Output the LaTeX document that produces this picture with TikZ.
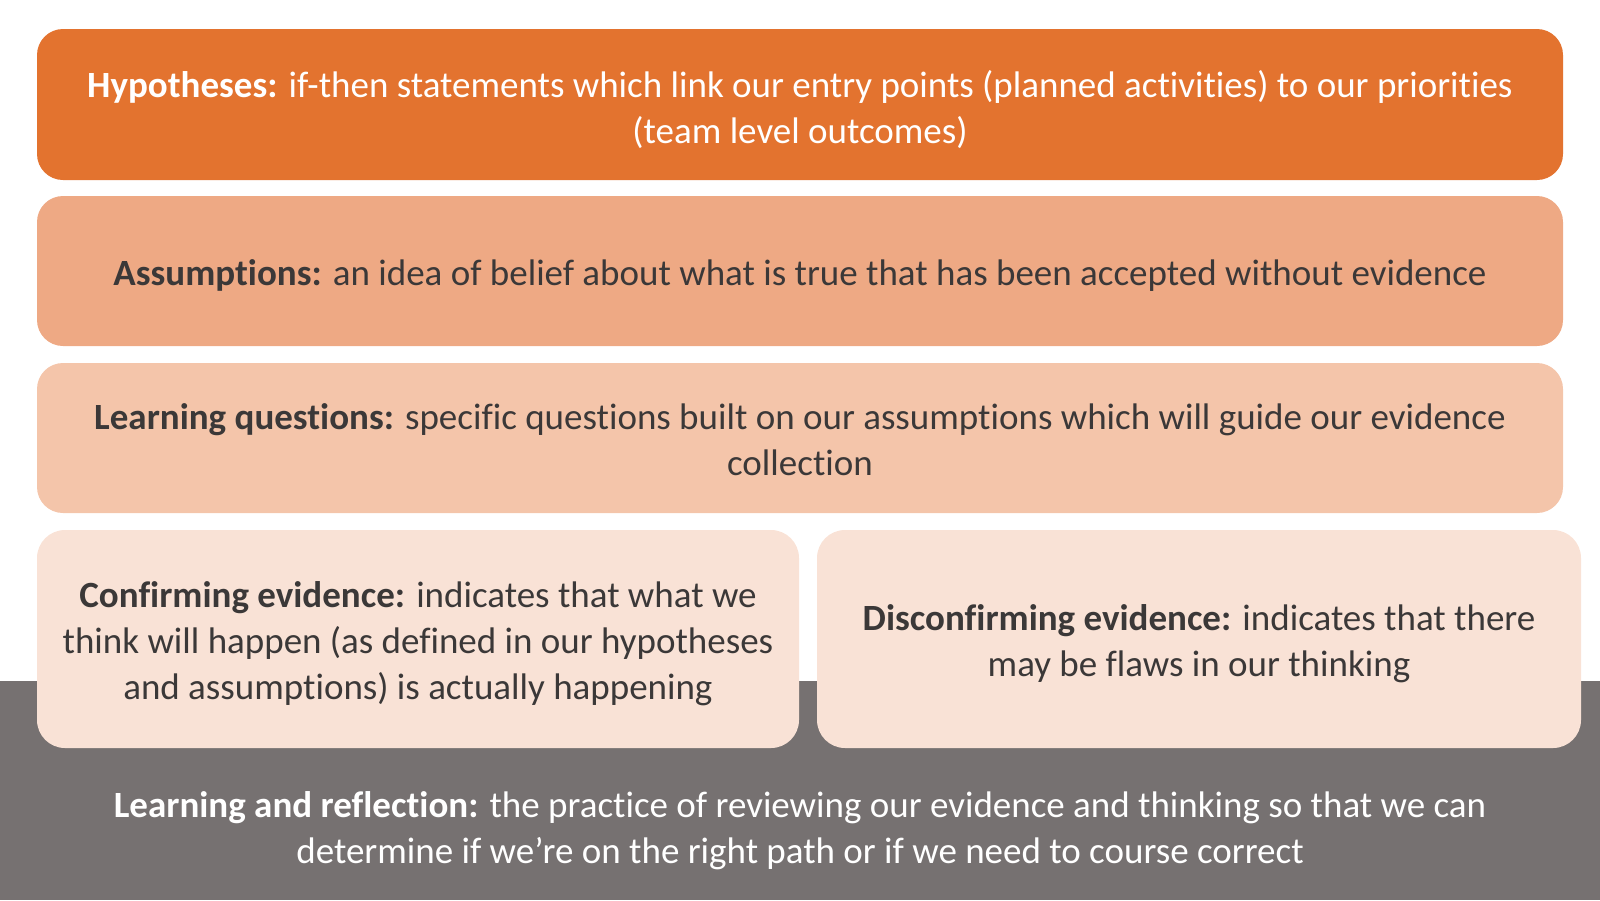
\documentclass[tikz,border=0pt]{standalone}
\usepackage{fontspec}
\setmainfont[Ligatures=NoCommon]{Carlito}
\definecolor{hypfill}{HTML}{E3732F}
\definecolor{assumfill}{HTML}{EEA984}
\definecolor{lqfill}{HTML}{F4C5AA}
\definecolor{evidfill}{HTML}{F9E2D6}
\definecolor{reflfill}{HTML}{767171}
\definecolor{darktext}{HTML}{3B3838}
\tikzset{
	panel/.style={rounded corners=13pt, inner sep=0pt, align=center, font=\fontsize{18.5}{23}\selectfont, text depth=0pt},
	evidpanel/.style={panel, fill=evidfill, text=darktext, rounded corners=14pt, minimum width=381pt, minimum height=109pt},
}

\begin{document}
\begin{tikzpicture}[x=0.5pt, y=-0.5pt]
		%%%%% START %%%%%
		\useasboundingbox (0, 0) rectangle (1600, 900);
		
		\fill[reflfill] (0, 681) rectangle (1600, 900);
		
		\fill[hypfill, rounded corners=13pt] (37, 29) rectangle (1563, 180);
		\node[panel, text=white] (hyp) at (800, 106.5)
			{\textbf{Hypotheses:} if-then statements which link our entry points (planned activities) to our priorities\\(team level outcomes)};
		
		\fill[assumfill, rounded corners=13pt] (37, 196) rectangle (1563, 346);
		\node[panel, text=darktext] (assum) at (800, 273)
			{\textbf{Assumptions:} an idea of belief about what is true that has been accepted without evidence};
		
		\fill[lqfill, rounded corners=13pt] (37, 363) rectangle (1563, 513);
		\node[panel, text=darktext] (lq) at (800, 440)
			{\textbf{Learning questions:} specific questions built on our assumptions which will guide our evidence\\collection};
		
		\fill[evidfill, rounded corners=14pt] (37, 530) rectangle (799, 748);
		\node[panel, text=darktext] (conf) at (418, 641)
			{\textbf{Confirming evidence:} indicates that what we\\think will happen (as defined in our hypotheses\\and assumptions) is actually happening};
		\fill[evidfill, rounded corners=14pt] (817, 530) rectangle (1581, 748);
		\node[panel, text=darktext] (disconf) at (1199, 641)
			{\textbf{Disconfirming evidence:} indicates that there\\may be flaws in our thinking};
		
		\node[panel, text=white] (refl) at (800, 828)
			{\textbf{Learning and reflection:} the practice of reviewing our evidence and thinking so that we can\\determine if we’re on the right path or if we need to course correct};
		
		%%%%% END %%%%%
	\end{tikzpicture}
\end{document}
